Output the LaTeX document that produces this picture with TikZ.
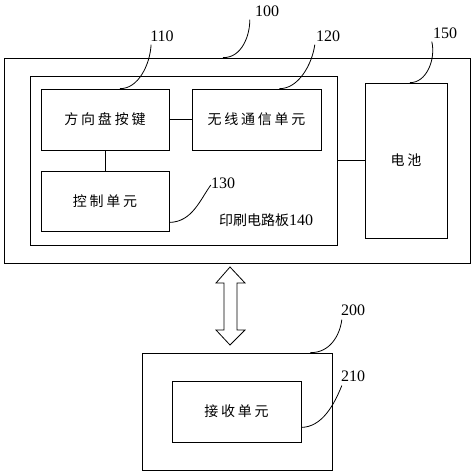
\documentclass[tikz,border=0pt]{standalone}
\usepackage{fontspec}
\setmainfont{Liberation Serif}
\newfontfamily\cjk[LetterSpace=20]{Noto Sans CJK SC}
\newfontfamily\cjktight{Noto Sans CJK SC}
\usetikzlibrary{calc}
\begin{document}
\begin{tikzpicture}[x=1pt,y=-1pt,
  box/.style={draw, line width=0.8pt, inner sep=0pt, minimum width=#1},
  lbl/.style={font=\fontsize{14}{16}\selectfont\cjk},
  num/.style={font=\fontsize{16}{18}\selectfont, inner sep=1pt},
  lead/.style={line width=0.8pt}]
\useasboundingbox (0,0) rectangle (474,474);
% boxes
\node[box=466pt, minimum height=205pt] (b100) at (237,160.5) {};
\node[box=307pt, minimum height=169pt] (b140) at (183.5,160.5) {};
\node[box=128pt, minimum height=61pt, lbl] (b110) at (105,119.5) {方向盘按键};
\node[box=129pt, minimum height=61pt, lbl] (b120) at (256.5,119.5) {无线通信单元};
\node[box=128pt, minimum height=60pt, lbl] (b130) at (105,201) {控制单元};
\node[box=82pt, minimum height=155pt, lbl] (b150) at (406,160.5) {电池};
\node[box=190pt, minimum height=117pt] (b200) at (237,411.5) {};
\node[box=129pt, minimum height=61pt, lbl] (b210) at (236.5,411.5) {接收单元};
\node[inner sep=0pt] (t140) at (266,220) {{\fontsize{14}{16}\selectfont\cjktight 印刷电路板}{\fontsize{16}{18}\selectfont\rmfamily 140}};
% connectors
\draw[lead] (b110.east) -- (b120.west);
\draw[lead] (b110.south) -- (b130.north);
\draw[lead] (b140.east) -- (b150.west);
% labels
\node[num] (l100) at (267,11) {100};
\node[num] (l110) at (162,36) {110};
\node[num] (l120) at (328,36) {120};
\node[num] (l150) at (445,33) {150};
\node[num] (l130) at (223,183) {130};
\node[num] (l200) at (353,310) {200};
\node[num] (l210) at (353,376) {210};
% leaders
\draw[lead] ([xshift=-14pt]b100.north) .. controls (242,58) and (250,35) .. ([xshift=-4pt,yshift=-2pt]l100.south west);
\draw[lead] ([xshift=15pt]b110.north) .. controls (138,89) and (150,65) .. ([xshift=2pt,yshift=-2pt]l110.south west);
\draw[lead] ([xshift=23pt]b120.north) .. controls (298,89) and (312,65) .. ([xshift=0pt,yshift=-2pt]l120.south west);
\draw[lead] ([xshift=4pt]b150.north) .. controls (426,83) and (436,60) .. ([xshift=0pt,yshift=-2pt]l150.south west);
\draw[lead] ([yshift=9pt]b130.south east) .. controls (192,222) and (200,200) .. ([xshift=1pt,yshift=-2pt]l130.west);
\draw[lead] ([xshift=-22pt]b200.north east) .. controls (330,353) and (340,335) .. ([xshift=2pt,yshift=-3pt]l200.south west);
\draw[lead] ([yshift=15pt]b210.south east) .. controls (322,427) and (334,405) .. ([xshift=2pt,yshift=-3pt]l210.south west);
% double arrow
\draw[line width=0.8pt, fill=white] (230,267) -- (245,283) -- (237,283) -- (237,330) -- (245,330) -- (230,345)
  -- (216,330) -- (224,330) -- (224,283) -- (216,283) -- cycle;
\end{tikzpicture}
\end{document}
